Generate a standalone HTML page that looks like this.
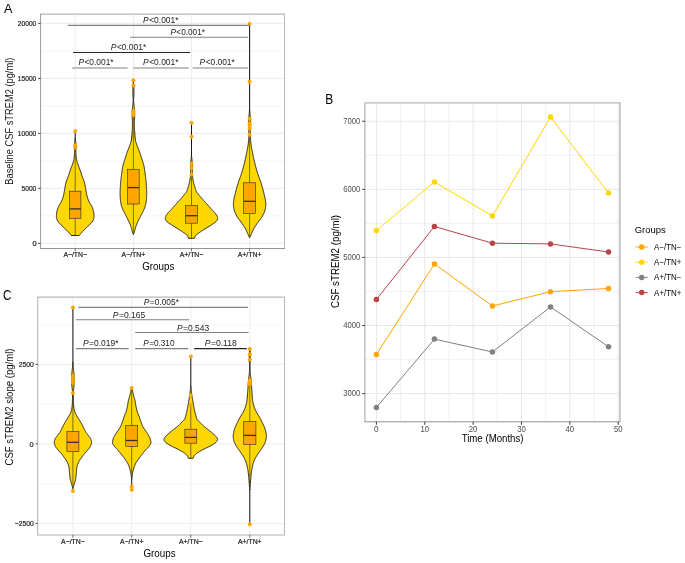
<!DOCTYPE html>
<html lang="en"><head><meta charset="utf-8"><title>CSF sTREM2 by group</title>
<style>html,body{margin:0;padding:0;background:#fff}svg{display:block}text{font-family:"Liberation Sans", sans-serif}</style>
</head><body>
<svg width="685" height="563" viewBox="0 0 685 563">
<rect width="685" height="563" fill="#fff"/>
<g id="panelA">
<rect x="40.60" y="14.00" width="243.90" height="234.50" fill="#fff"/>
<line x1="40.60" y1="215.90" x2="284.50" y2="215.90" stroke="#f6f6f6" stroke-width="0.95"/>
<line x1="40.60" y1="160.90" x2="284.50" y2="160.90" stroke="#f6f6f6" stroke-width="0.95"/>
<line x1="40.60" y1="105.90" x2="284.50" y2="105.90" stroke="#f6f6f6" stroke-width="0.95"/>
<line x1="40.60" y1="50.90" x2="284.50" y2="50.90" stroke="#f6f6f6" stroke-width="0.95"/>
<line x1="40.60" y1="243.40" x2="284.50" y2="243.40" stroke="#eeeeee" stroke-width="1.15"/>
<line x1="40.60" y1="188.40" x2="284.50" y2="188.40" stroke="#eeeeee" stroke-width="1.15"/>
<line x1="40.60" y1="133.40" x2="284.50" y2="133.40" stroke="#eeeeee" stroke-width="1.15"/>
<line x1="40.60" y1="78.40" x2="284.50" y2="78.40" stroke="#eeeeee" stroke-width="1.15"/>
<line x1="40.60" y1="23.40" x2="284.50" y2="23.40" stroke="#eeeeee" stroke-width="1.15"/>
<line x1="75.20" y1="14.00" x2="75.20" y2="248.50" stroke="#eeeeee" stroke-width="1.15"/>
<line x1="133.40" y1="14.00" x2="133.40" y2="248.50" stroke="#eeeeee" stroke-width="1.15"/>
<line x1="191.50" y1="14.00" x2="191.50" y2="248.50" stroke="#eeeeee" stroke-width="1.15"/>
<line x1="249.60" y1="14.00" x2="249.60" y2="248.50" stroke="#eeeeee" stroke-width="1.15"/>
<line x1="75.20" y1="131.00" x2="75.20" y2="138.50" stroke="#1a1a1a" stroke-width="1.05"/>
<path d="M75.10 138.00 L75.04 138.62 L74.97 139.25 L74.90 139.88 L74.83 140.50 L74.76 141.12 L74.70 141.75 L74.65 142.38 L74.60 143.00 L74.57 143.50 L74.53 144.00 L74.50 144.50 L74.47 145.00 L74.44 145.50 L74.42 146.00 L74.40 146.50 L74.40 147.00 L74.40 147.50 L74.42 148.00 L74.43 148.50 L74.45 149.00 L74.47 149.50 L74.48 150.00 L74.50 150.50 L74.50 151.00 L74.50 151.38 L74.49 151.75 L74.48 152.12 L74.47 152.50 L74.45 152.88 L74.43 153.25 L74.42 153.62 L74.40 154.00 L74.38 154.50 L74.35 155.00 L74.32 155.50 L74.28 156.00 L74.24 156.50 L74.20 157.00 L74.15 157.50 L74.10 158.00 L74.02 158.60 L73.92 159.20 L73.79 159.80 L73.65 160.40 L73.50 161.00 L73.34 161.60 L73.17 162.20 L73.00 162.80 L72.76 163.60 L72.48 164.40 L72.17 165.20 L71.86 166.00 L71.53 166.80 L71.21 167.60 L70.89 168.40 L70.60 169.20 L70.33 170.00 L70.06 170.80 L69.80 171.60 L69.55 172.40 L69.30 173.20 L69.04 174.00 L68.77 174.80 L68.50 175.60 L68.21 176.40 L67.89 177.20 L67.56 178.00 L67.23 178.80 L66.91 179.60 L66.61 180.40 L66.34 181.20 L66.10 182.00 L65.90 182.79 L65.72 183.57 L65.55 184.36 L65.39 185.15 L65.24 185.94 L65.09 186.73 L64.95 187.51 L64.80 188.30 L64.66 189.10 L64.53 189.90 L64.40 190.70 L64.28 191.50 L64.15 192.30 L64.02 193.10 L63.87 193.90 L63.70 194.70 L63.51 195.50 L63.29 196.30 L63.05 197.10 L62.80 197.90 L62.52 198.70 L62.23 199.50 L61.92 200.30 L61.60 201.10 L61.23 201.90 L60.79 202.70 L60.30 203.50 L59.80 204.30 L59.30 205.10 L58.83 205.90 L58.42 206.70 L58.10 207.50 L57.83 208.30 L57.56 209.10 L57.30 209.90 L57.07 210.70 L56.86 211.50 L56.69 212.30 L56.57 213.10 L56.50 213.90 L56.48 214.30 L56.46 214.70 L56.44 215.10 L56.43 215.50 L56.42 215.90 L56.41 216.30 L56.40 216.70 L56.40 217.10 L56.42 217.50 L56.48 217.90 L56.57 218.30 L56.69 218.70 L56.83 219.10 L56.98 219.50 L57.14 219.90 L57.30 220.30 L57.71 221.10 L58.26 221.90 L58.92 222.70 L59.68 223.50 L60.48 224.30 L61.31 225.10 L62.12 225.90 L62.90 226.70 L63.67 227.50 L64.48 228.30 L65.31 229.10 L66.15 229.90 L66.99 230.70 L67.80 231.50 L68.57 232.30 L69.30 233.10 L69.56 233.40 L69.80 233.70 L70.04 234.00 L70.27 234.30 L70.50 234.60 L70.73 234.90 L70.97 235.20 L71.20 235.50 L79.20 235.50 L79.43 235.20 L79.67 234.90 L79.90 234.60 L80.13 234.30 L80.36 234.00 L80.60 233.70 L80.84 233.40 L81.10 233.10 L81.83 232.30 L82.60 231.50 L83.41 230.70 L84.25 229.90 L85.09 229.10 L85.92 228.30 L86.73 227.50 L87.50 226.70 L88.28 225.90 L89.09 225.10 L89.92 224.30 L90.72 223.50 L91.48 222.70 L92.14 221.90 L92.69 221.10 L93.10 220.30 L93.26 219.90 L93.42 219.50 L93.57 219.10 L93.71 218.70 L93.83 218.30 L93.92 217.90 L93.98 217.50 L94.00 217.10 L94.00 216.70 L93.99 216.30 L93.98 215.90 L93.97 215.50 L93.96 215.10 L93.94 214.70 L93.92 214.30 L93.90 213.90 L93.83 213.10 L93.71 212.30 L93.54 211.50 L93.33 210.70 L93.10 209.90 L92.84 209.10 L92.57 208.30 L92.30 207.50 L91.98 206.70 L91.57 205.90 L91.10 205.10 L90.60 204.30 L90.10 203.50 L89.61 202.70 L89.17 201.90 L88.80 201.10 L88.48 200.30 L88.17 199.50 L87.88 198.70 L87.60 197.90 L87.35 197.10 L87.11 196.30 L86.89 195.50 L86.70 194.70 L86.53 193.90 L86.38 193.10 L86.25 192.30 L86.12 191.50 L86.00 190.70 L85.87 189.90 L85.74 189.10 L85.60 188.30 L85.45 187.51 L85.31 186.73 L85.16 185.94 L85.01 185.15 L84.85 184.36 L84.68 183.57 L84.50 182.79 L84.30 182.00 L84.06 181.20 L83.79 180.40 L83.49 179.60 L83.17 178.80 L82.84 178.00 L82.51 177.20 L82.19 176.40 L81.90 175.60 L81.63 174.80 L81.36 174.00 L81.10 173.20 L80.85 172.40 L80.60 171.60 L80.34 170.80 L80.07 170.00 L79.80 169.20 L79.51 168.40 L79.19 167.60 L78.87 166.80 L78.55 166.00 L78.23 165.20 L77.92 164.40 L77.64 163.60 L77.40 162.80 L77.23 162.20 L77.06 161.60 L76.90 161.00 L76.75 160.40 L76.61 159.80 L76.48 159.20 L76.38 158.60 L76.30 158.00 L76.25 157.50 L76.20 157.00 L76.16 156.50 L76.12 156.00 L76.08 155.50 L76.05 155.00 L76.02 154.50 L76.00 154.00 L75.98 153.62 L75.97 153.25 L75.95 152.88 L75.93 152.50 L75.92 152.12 L75.91 151.75 L75.90 151.38 L75.90 151.00 L75.90 150.50 L75.92 150.00 L75.93 149.50 L75.95 149.00 L75.97 148.50 L75.98 148.00 L76.00 147.50 L76.00 147.00 L76.00 146.50 L75.98 146.00 L75.96 145.50 L75.93 145.00 L75.90 144.50 L75.87 144.00 L75.83 143.50 L75.80 143.00 L75.75 142.38 L75.70 141.75 L75.64 141.12 L75.57 140.50 L75.50 139.88 L75.43 139.25 L75.36 138.62 L75.30 138.00 Z" fill="#FFD700" stroke="#1c1c1c" stroke-width="0.95" stroke-linejoin="round"/>
<line x1="75.20" y1="147.00" x2="75.20" y2="191.20" stroke="#333333" stroke-width="0.65"/>
<line x1="75.20" y1="218.30" x2="75.20" y2="235.40" stroke="#333333" stroke-width="0.65"/>
<rect x="69.50" y="191.20" width="11.40" height="27.10" fill="#FFA500" stroke="#333333" stroke-width="0.65"/>
<line x1="69.50" y1="208.90" x2="80.90" y2="208.90" stroke="#333333" stroke-width="1.3"/>
<circle cx="75.20" cy="131.00" r="2.00" fill="#FFA500"/>
<circle cx="75.20" cy="145.20" r="2.00" fill="#FFA500"/>
<circle cx="75.20" cy="147.40" r="2.00" fill="#FFA500"/>
<line x1="133.40" y1="80.00" x2="133.40" y2="83.50" stroke="#1a1a1a" stroke-width="1.05"/>
<path d="M133.30 83.00 L133.24 83.62 L133.17 84.25 L133.09 84.88 L133.02 85.50 L132.95 86.12 L132.90 86.75 L132.86 87.38 L132.85 88.00 L132.85 88.75 L132.85 89.50 L132.85 90.25 L132.85 91.00 L132.85 91.75 L132.85 92.50 L132.85 93.25 L132.85 94.00 L132.87 94.75 L132.90 95.50 L132.96 96.25 L133.03 97.00 L133.09 97.75 L133.15 98.50 L133.18 99.25 L133.20 100.00 L133.19 100.62 L133.16 101.25 L133.11 101.88 L133.06 102.50 L132.99 103.12 L132.93 103.75 L132.86 104.38 L132.80 105.00 L132.74 105.62 L132.67 106.25 L132.59 106.88 L132.52 107.50 L132.45 108.12 L132.39 108.75 L132.33 109.38 L132.30 110.00 L132.27 110.75 L132.24 111.50 L132.22 112.25 L132.19 113.00 L132.18 113.75 L132.16 114.50 L132.15 115.25 L132.15 116.00 L132.16 116.75 L132.19 117.50 L132.23 118.25 L132.28 119.00 L132.32 119.75 L132.36 120.50 L132.39 121.25 L132.40 122.00 L132.40 122.62 L132.40 123.25 L132.40 123.88 L132.40 124.50 L132.40 125.12 L132.40 125.75 L132.40 126.38 L132.40 127.00 L132.39 127.62 L132.37 128.25 L132.34 128.88 L132.29 129.50 L132.25 130.12 L132.20 130.75 L132.15 131.38 L132.10 132.00 L132.03 133.00 L131.96 134.00 L131.90 135.00 L131.82 136.00 L131.74 137.00 L131.64 138.00 L131.53 139.00 L131.40 140.00 L131.28 140.66 L131.13 141.32 L130.94 141.99 L130.73 142.65 L130.50 143.31 L130.27 143.98 L130.03 144.64 L129.80 145.30 L129.56 145.98 L129.31 146.65 L129.04 147.32 L128.77 148.00 L128.49 148.68 L128.22 149.35 L127.95 150.02 L127.70 150.70 L127.46 151.36 L127.23 152.02 L127.00 152.69 L126.78 153.35 L126.56 154.01 L126.34 154.68 L126.12 155.34 L125.90 156.00 L125.68 156.66 L125.46 157.32 L125.25 157.99 L125.03 158.65 L124.82 159.31 L124.61 159.98 L124.40 160.64 L124.20 161.30 L124.00 161.96 L123.79 162.62 L123.58 163.29 L123.38 163.95 L123.19 164.61 L123.00 165.28 L122.84 165.94 L122.70 166.60 L122.58 167.28 L122.46 167.95 L122.36 168.62 L122.26 169.30 L122.17 169.97 L122.08 170.65 L121.99 171.32 L121.90 172.00 L121.81 172.66 L121.72 173.32 L121.63 173.99 L121.54 174.65 L121.45 175.31 L121.37 175.98 L121.28 176.64 L121.20 177.30 L121.12 177.96 L121.03 178.62 L120.95 179.29 L120.87 179.95 L120.79 180.61 L120.72 181.28 L120.66 181.94 L120.60 182.60 L120.55 183.26 L120.51 183.93 L120.47 184.59 L120.43 185.25 L120.39 185.91 L120.36 186.57 L120.33 187.24 L120.30 187.90 L120.27 188.58 L120.23 189.25 L120.20 189.93 L120.17 190.60 L120.14 191.28 L120.12 191.95 L120.11 192.62 L120.10 193.30 L120.10 193.96 L120.12 194.62 L120.14 195.29 L120.16 195.95 L120.19 196.61 L120.23 197.28 L120.26 197.94 L120.30 198.60 L120.35 199.26 L120.41 199.93 L120.48 200.59 L120.56 201.25 L120.66 201.91 L120.77 202.57 L120.88 203.24 L121.00 203.90 L121.14 204.56 L121.31 205.22 L121.50 205.89 L121.72 206.55 L121.95 207.21 L122.19 207.88 L122.44 208.54 L122.70 209.20 L122.98 209.88 L123.29 210.55 L123.62 211.22 L123.97 211.90 L124.33 212.57 L124.69 213.25 L125.05 213.92 L125.40 214.60 L125.74 215.26 L126.08 215.93 L126.43 216.59 L126.77 217.25 L127.12 217.91 L127.45 218.57 L127.78 219.24 L128.10 219.90 L128.41 220.56 L128.72 221.22 L129.02 221.89 L129.31 222.55 L129.60 223.21 L129.88 223.88 L130.15 224.54 L130.40 225.20 L130.57 225.65 L130.73 226.10 L130.89 226.55 L131.04 227.00 L131.19 227.45 L131.33 227.90 L131.47 228.35 L131.60 228.80 L131.72 229.24 L131.83 229.68 L131.94 230.11 L132.04 230.55 L132.15 230.99 L132.26 231.43 L132.37 231.86 L132.50 232.30 L132.58 232.56 L132.67 232.83 L132.76 233.09 L132.86 233.35 L132.96 233.61 L133.06 233.88 L133.15 234.14 L133.25 234.40 L133.55 234.40 L133.65 234.14 L133.74 233.88 L133.84 233.61 L133.94 233.35 L134.04 233.09 L134.13 232.83 L134.22 232.56 L134.30 232.30 L134.43 231.86 L134.54 231.43 L134.65 230.99 L134.76 230.55 L134.86 230.11 L134.97 229.68 L135.08 229.24 L135.20 228.80 L135.33 228.35 L135.47 227.90 L135.61 227.45 L135.76 227.00 L135.91 226.55 L136.07 226.10 L136.23 225.65 L136.40 225.20 L136.65 224.54 L136.92 223.88 L137.20 223.21 L137.49 222.55 L137.78 221.89 L138.08 221.22 L138.39 220.56 L138.70 219.90 L139.02 219.24 L139.35 218.57 L139.68 217.91 L140.03 217.25 L140.37 216.59 L140.72 215.93 L141.06 215.26 L141.40 214.60 L141.75 213.92 L142.11 213.25 L142.47 212.57 L142.83 211.90 L143.18 211.22 L143.51 210.55 L143.82 209.88 L144.10 209.20 L144.36 208.54 L144.61 207.88 L144.85 207.21 L145.08 206.55 L145.30 205.89 L145.49 205.22 L145.66 204.56 L145.80 203.90 L145.92 203.24 L146.03 202.57 L146.14 201.91 L146.24 201.25 L146.32 200.59 L146.39 199.93 L146.45 199.26 L146.50 198.60 L146.54 197.94 L146.58 197.28 L146.61 196.61 L146.64 195.95 L146.66 195.29 L146.68 194.62 L146.70 193.96 L146.70 193.30 L146.69 192.62 L146.68 191.95 L146.66 191.28 L146.63 190.60 L146.60 189.93 L146.57 189.25 L146.53 188.58 L146.50 187.90 L146.47 187.24 L146.44 186.57 L146.41 185.91 L146.37 185.25 L146.33 184.59 L146.29 183.93 L146.25 183.26 L146.20 182.60 L146.14 181.94 L146.08 181.28 L146.01 180.61 L145.93 179.95 L145.85 179.29 L145.77 178.62 L145.68 177.96 L145.60 177.30 L145.52 176.64 L145.43 175.98 L145.35 175.31 L145.26 174.65 L145.17 173.99 L145.08 173.32 L144.99 172.66 L144.90 172.00 L144.81 171.32 L144.72 170.65 L144.63 169.97 L144.54 169.30 L144.44 168.62 L144.34 167.95 L144.22 167.28 L144.10 166.60 L143.96 165.94 L143.80 165.28 L143.61 164.61 L143.42 163.95 L143.22 163.29 L143.01 162.62 L142.80 161.96 L142.60 161.30 L142.40 160.64 L142.19 159.98 L141.98 159.31 L141.77 158.65 L141.55 157.99 L141.34 157.32 L141.12 156.66 L140.90 156.00 L140.68 155.34 L140.46 154.68 L140.24 154.01 L140.02 153.35 L139.80 152.69 L139.57 152.02 L139.34 151.36 L139.10 150.70 L138.85 150.02 L138.58 149.35 L138.31 148.68 L138.03 148.00 L137.76 147.32 L137.49 146.65 L137.24 145.98 L137.00 145.30 L136.77 144.64 L136.53 143.98 L136.30 143.31 L136.07 142.65 L135.86 141.99 L135.67 141.32 L135.52 140.66 L135.40 140.00 L135.27 139.00 L135.16 138.00 L135.06 137.00 L134.98 136.00 L134.90 135.00 L134.84 134.00 L134.77 133.00 L134.70 132.00 L134.65 131.38 L134.60 130.75 L134.55 130.12 L134.51 129.50 L134.46 128.88 L134.43 128.25 L134.41 127.62 L134.40 127.00 L134.40 126.38 L134.40 125.75 L134.40 125.12 L134.40 124.50 L134.40 123.88 L134.40 123.25 L134.40 122.62 L134.40 122.00 L134.41 121.25 L134.44 120.50 L134.48 119.75 L134.53 119.00 L134.57 118.25 L134.61 117.50 L134.64 116.75 L134.65 116.00 L134.65 115.25 L134.64 114.50 L134.62 113.75 L134.61 113.00 L134.58 112.25 L134.56 111.50 L134.53 110.75 L134.50 110.00 L134.47 109.38 L134.41 108.75 L134.35 108.12 L134.28 107.50 L134.21 106.88 L134.13 106.25 L134.06 105.62 L134.00 105.00 L133.94 104.38 L133.88 103.75 L133.81 103.12 L133.74 102.50 L133.69 101.88 L133.64 101.25 L133.61 100.62 L133.60 100.00 L133.62 99.25 L133.65 98.50 L133.71 97.75 L133.78 97.00 L133.84 96.25 L133.90 95.50 L133.93 94.75 L133.95 94.00 L133.95 93.25 L133.95 92.50 L133.95 91.75 L133.95 91.00 L133.95 90.25 L133.95 89.50 L133.95 88.75 L133.95 88.00 L133.94 87.38 L133.90 86.75 L133.85 86.12 L133.78 85.50 L133.71 84.88 L133.63 84.25 L133.56 83.62 L133.50 83.00 Z" fill="#FFD700" stroke="#1c1c1c" stroke-width="0.95" stroke-linejoin="round"/>
<line x1="133.40" y1="117.00" x2="133.40" y2="169.30" stroke="#333333" stroke-width="0.65"/>
<line x1="133.40" y1="204.00" x2="133.40" y2="234.40" stroke="#333333" stroke-width="0.65"/>
<rect x="127.60" y="169.30" width="11.60" height="34.70" fill="#FFA500" stroke="#333333" stroke-width="0.65"/>
<line x1="127.60" y1="187.60" x2="139.20" y2="187.60" stroke="#333333" stroke-width="1.3"/>
<circle cx="133.40" cy="80.20" r="2.00" fill="#FFA500"/>
<circle cx="133.40" cy="85.50" r="2.00" fill="#FFA500"/>
<circle cx="133.40" cy="111.20" r="2.00" fill="#FFA500"/>
<circle cx="133.40" cy="113.00" r="2.00" fill="#FFA500"/>
<circle cx="133.40" cy="114.80" r="2.00" fill="#FFA500"/>
<line x1="191.50" y1="122.70" x2="191.50" y2="156.50" stroke="#1a1a1a" stroke-width="1.05"/>
<path d="M191.40 156.00 L191.34 156.62 L191.27 157.25 L191.21 157.88 L191.14 158.50 L191.08 159.12 L191.02 159.75 L190.96 160.38 L190.90 161.00 L190.84 161.62 L190.78 162.25 L190.71 162.88 L190.64 163.50 L190.59 164.12 L190.54 164.75 L190.51 165.38 L190.50 166.00 L190.50 166.62 L190.52 167.25 L190.53 167.88 L190.55 168.50 L190.57 169.12 L190.58 169.75 L190.60 170.38 L190.60 171.00 L190.60 171.38 L190.60 171.75 L190.60 172.12 L190.60 172.50 L190.60 172.88 L190.60 173.25 L190.60 173.62 L190.60 174.00 L190.59 174.41 L190.57 174.82 L190.54 175.24 L190.50 175.65 L190.45 176.06 L190.40 176.48 L190.35 176.89 L190.30 177.30 L190.22 177.96 L190.13 178.62 L190.02 179.29 L189.91 179.95 L189.80 180.61 L189.67 181.28 L189.54 181.94 L189.40 182.60 L189.25 183.26 L189.08 183.93 L188.90 184.59 L188.71 185.25 L188.51 185.91 L188.31 186.57 L188.11 187.24 L187.90 187.90 L187.77 188.35 L187.64 188.80 L187.51 189.25 L187.37 189.70 L187.23 190.15 L187.07 190.60 L186.90 191.05 L186.70 191.50 L186.47 191.94 L186.18 192.38 L185.85 192.81 L185.50 193.25 L185.12 193.69 L184.74 194.12 L184.36 194.56 L184.00 195.00 L183.64 195.45 L183.27 195.90 L182.90 196.35 L182.53 196.80 L182.16 197.25 L181.78 197.70 L181.39 198.15 L181.00 198.60 L180.61 199.04 L180.22 199.47 L179.82 199.91 L179.41 200.35 L179.01 200.79 L178.60 201.22 L178.20 201.66 L177.80 202.10 L177.39 202.55 L176.99 203.00 L176.59 203.45 L176.19 203.90 L175.79 204.35 L175.39 204.80 L174.99 205.25 L174.60 205.70 L174.22 206.14 L173.85 206.57 L173.48 207.01 L173.12 207.45 L172.75 207.89 L172.37 208.32 L171.99 208.76 L171.60 209.20 L171.17 209.65 L170.72 210.10 L170.26 210.55 L169.79 211.00 L169.33 211.45 L168.89 211.90 L168.48 212.35 L168.10 212.80 L167.76 213.24 L167.42 213.68 L167.09 214.11 L166.77 214.55 L166.48 214.99 L166.22 215.43 L165.99 215.86 L165.80 216.30 L165.71 216.53 L165.63 216.75 L165.54 216.97 L165.47 217.20 L165.40 217.43 L165.35 217.65 L165.31 217.88 L165.30 218.10 L165.32 218.44 L165.39 218.78 L165.48 219.11 L165.61 219.45 L165.76 219.79 L165.93 220.12 L166.11 220.46 L166.30 220.80 L166.61 221.24 L167.03 221.68 L167.55 222.11 L168.14 222.55 L168.77 222.99 L169.42 223.43 L170.07 223.86 L170.70 224.30 L171.51 224.86 L172.36 225.43 L173.25 225.99 L174.16 226.55 L175.08 227.11 L176.00 227.68 L176.91 228.24 L177.80 228.80 L178.49 229.24 L179.19 229.68 L179.89 230.11 L180.59 230.55 L181.27 230.99 L181.94 231.43 L182.59 231.86 L183.20 232.30 L183.83 232.75 L184.48 233.20 L185.14 233.65 L185.76 234.10 L186.35 234.55 L186.86 235.00 L187.29 235.45 L187.60 235.90 L187.75 236.20 L187.89 236.50 L188.00 236.80 L188.10 237.10 L188.20 237.40 L188.30 237.70 L188.39 238.00 L188.50 238.30 L194.50 238.30 L194.61 238.00 L194.70 237.70 L194.80 237.40 L194.90 237.10 L195.00 236.80 L195.11 236.50 L195.25 236.20 L195.40 235.90 L195.71 235.45 L196.14 235.00 L196.65 234.55 L197.24 234.10 L197.86 233.65 L198.52 233.20 L199.17 232.75 L199.80 232.30 L200.41 231.86 L201.06 231.43 L201.73 230.99 L202.41 230.55 L203.11 230.11 L203.81 229.68 L204.51 229.24 L205.20 228.80 L206.09 228.24 L207.00 227.68 L207.92 227.11 L208.84 226.55 L209.75 225.99 L210.64 225.43 L211.49 224.86 L212.30 224.30 L212.93 223.86 L213.58 223.43 L214.23 222.99 L214.86 222.55 L215.45 222.11 L215.97 221.68 L216.39 221.24 L216.70 220.80 L216.89 220.46 L217.07 220.12 L217.24 219.79 L217.39 219.45 L217.52 219.11 L217.61 218.78 L217.68 218.44 L217.70 218.10 L217.69 217.88 L217.65 217.65 L217.60 217.43 L217.53 217.20 L217.46 216.97 L217.37 216.75 L217.29 216.53 L217.20 216.30 L217.01 215.86 L216.78 215.43 L216.52 214.99 L216.23 214.55 L215.91 214.11 L215.58 213.68 L215.24 213.24 L214.90 212.80 L214.52 212.35 L214.11 211.90 L213.67 211.45 L213.21 211.00 L212.74 210.55 L212.28 210.10 L211.83 209.65 L211.40 209.20 L211.01 208.76 L210.63 208.32 L210.25 207.89 L209.88 207.45 L209.52 207.01 L209.15 206.57 L208.78 206.14 L208.40 205.70 L208.01 205.25 L207.61 204.80 L207.21 204.35 L206.81 203.90 L206.41 203.45 L206.01 203.00 L205.61 202.55 L205.20 202.10 L204.80 201.66 L204.40 201.22 L203.99 200.79 L203.59 200.35 L203.18 199.91 L202.78 199.47 L202.39 199.04 L202.00 198.60 L201.61 198.15 L201.22 197.70 L200.84 197.25 L200.47 196.80 L200.10 196.35 L199.73 195.90 L199.36 195.45 L199.00 195.00 L198.64 194.56 L198.26 194.12 L197.88 193.69 L197.50 193.25 L197.15 192.81 L196.82 192.38 L196.53 191.94 L196.30 191.50 L196.10 191.05 L195.93 190.60 L195.77 190.15 L195.63 189.70 L195.49 189.25 L195.36 188.80 L195.23 188.35 L195.10 187.90 L194.89 187.24 L194.69 186.57 L194.49 185.91 L194.29 185.25 L194.10 184.59 L193.92 183.93 L193.75 183.26 L193.60 182.60 L193.46 181.94 L193.33 181.28 L193.20 180.61 L193.09 179.95 L192.98 179.29 L192.87 178.62 L192.78 177.96 L192.70 177.30 L192.65 176.89 L192.60 176.48 L192.55 176.06 L192.50 175.65 L192.46 175.24 L192.43 174.82 L192.41 174.41 L192.40 174.00 L192.40 173.62 L192.40 173.25 L192.40 172.88 L192.40 172.50 L192.40 172.12 L192.40 171.75 L192.40 171.38 L192.40 171.00 L192.40 170.38 L192.42 169.75 L192.43 169.12 L192.45 168.50 L192.47 167.88 L192.48 167.25 L192.50 166.62 L192.50 166.00 L192.49 165.38 L192.46 164.75 L192.41 164.12 L192.36 163.50 L192.29 162.88 L192.22 162.25 L192.16 161.62 L192.10 161.00 L192.04 160.38 L191.98 159.75 L191.92 159.12 L191.86 158.50 L191.79 157.88 L191.73 157.25 L191.66 156.62 L191.60 156.00 Z" fill="#FFD700" stroke="#1c1c1c" stroke-width="0.95" stroke-linejoin="round"/>
<line x1="191.50" y1="176.00" x2="191.50" y2="205.40" stroke="#333333" stroke-width="0.65"/>
<line x1="191.50" y1="223.20" x2="191.50" y2="238.30" stroke="#333333" stroke-width="0.65"/>
<rect x="185.55" y="205.40" width="11.90" height="17.80" fill="#FFA500" stroke="#333333" stroke-width="0.65"/>
<line x1="185.55" y1="215.70" x2="197.45" y2="215.70" stroke="#333333" stroke-width="1.3"/>
<circle cx="191.50" cy="122.70" r="2.00" fill="#FFA500"/>
<circle cx="191.50" cy="136.80" r="2.00" fill="#FFA500"/>
<circle cx="191.50" cy="163.80" r="2.00" fill="#FFA500"/>
<circle cx="191.50" cy="167.80" r="2.00" fill="#FFA500"/>
<circle cx="191.50" cy="174.60" r="2.00" fill="#FFA500"/>
<line x1="249.60" y1="24.00" x2="249.60" y2="110.50" stroke="#1a1a1a" stroke-width="1.05"/>
<path d="M249.50 110.00 L249.44 110.75 L249.37 111.50 L249.31 112.25 L249.24 113.00 L249.18 113.75 L249.12 114.50 L249.06 115.25 L249.00 116.00 L248.94 116.75 L248.88 117.50 L248.81 118.25 L248.74 119.00 L248.69 119.75 L248.64 120.50 L248.61 121.25 L248.60 122.00 L248.60 122.75 L248.60 123.50 L248.60 124.25 L248.60 125.00 L248.60 125.75 L248.60 126.50 L248.60 127.25 L248.60 128.00 L248.61 128.62 L248.65 129.25 L248.69 129.88 L248.75 130.50 L248.81 131.12 L248.85 131.75 L248.89 132.38 L248.90 133.00 L248.90 133.65 L248.88 134.30 L248.86 134.95 L248.83 135.60 L248.80 136.25 L248.77 136.90 L248.73 137.55 L248.70 138.20 L248.66 138.96 L248.61 139.72 L248.56 140.49 L248.50 141.25 L248.43 142.01 L248.36 142.78 L248.28 143.54 L248.20 144.30 L248.10 145.06 L247.98 145.83 L247.85 146.59 L247.71 147.35 L247.55 148.11 L247.40 148.88 L247.25 149.64 L247.10 150.40 L246.96 151.18 L246.81 151.95 L246.67 152.72 L246.52 153.50 L246.37 154.28 L246.22 155.05 L246.06 155.82 L245.90 156.60 L245.74 157.36 L245.57 158.12 L245.40 158.89 L245.23 159.65 L245.05 160.41 L244.87 161.17 L244.69 161.94 L244.50 162.70 L244.31 163.46 L244.12 164.22 L243.93 164.99 L243.73 165.75 L243.53 166.51 L243.32 167.28 L243.11 168.04 L242.90 168.80 L242.68 169.58 L242.45 170.35 L242.22 171.12 L241.99 171.90 L241.75 172.68 L241.50 173.45 L241.25 174.22 L241.00 175.00 L240.74 175.76 L240.47 176.53 L240.19 177.29 L239.90 178.05 L239.62 178.81 L239.34 179.57 L239.06 180.34 L238.80 181.10 L238.55 181.86 L238.30 182.62 L238.05 183.39 L237.81 184.15 L237.57 184.91 L237.34 185.67 L237.12 186.44 L236.90 187.20 L236.68 187.97 L236.47 188.75 L236.27 189.53 L236.07 190.30 L235.87 191.07 L235.68 191.85 L235.49 192.62 L235.30 193.40 L235.11 194.16 L234.91 194.93 L234.71 195.69 L234.52 196.45 L234.33 197.21 L234.17 197.97 L234.02 198.74 L233.90 199.50 L233.81 200.14 L233.72 200.78 L233.64 201.41 L233.56 202.05 L233.50 202.69 L233.45 203.32 L233.41 203.96 L233.40 204.60 L233.42 205.24 L233.46 205.88 L233.53 206.51 L233.62 207.15 L233.73 207.79 L233.84 208.42 L233.97 209.06 L234.10 209.70 L234.29 210.47 L234.53 211.25 L234.82 212.03 L235.15 212.80 L235.51 213.57 L235.89 214.35 L236.29 215.12 L236.70 215.90 L237.13 216.66 L237.63 217.43 L238.16 218.19 L238.73 218.95 L239.31 219.71 L239.89 220.47 L240.46 221.24 L241.00 222.00 L241.53 222.76 L242.07 223.53 L242.61 224.29 L243.15 225.05 L243.67 225.81 L244.18 226.57 L244.65 227.34 L245.10 228.10 L245.38 228.61 L245.65 229.12 L245.91 229.64 L246.16 230.15 L246.40 230.66 L246.64 231.17 L246.87 231.69 L247.10 232.20 L247.27 232.59 L247.43 232.97 L247.59 233.36 L247.75 233.75 L247.91 234.14 L248.07 234.53 L248.23 234.91 L248.40 235.30 L248.53 235.58 L248.65 235.85 L248.78 236.12 L248.92 236.40 L249.05 236.68 L249.18 236.95 L249.32 237.22 L249.45 237.50 L249.75 237.50 L249.88 237.22 L250.02 236.95 L250.15 236.68 L250.28 236.40 L250.42 236.12 L250.55 235.85 L250.67 235.58 L250.80 235.30 L250.97 234.91 L251.13 234.53 L251.29 234.14 L251.45 233.75 L251.61 233.36 L251.77 232.97 L251.93 232.59 L252.10 232.20 L252.33 231.69 L252.56 231.17 L252.80 230.66 L253.04 230.15 L253.29 229.64 L253.55 229.12 L253.82 228.61 L254.10 228.10 L254.55 227.34 L255.02 226.57 L255.53 225.81 L256.05 225.05 L256.59 224.29 L257.13 223.53 L257.67 222.76 L258.20 222.00 L258.74 221.24 L259.31 220.47 L259.89 219.71 L260.47 218.95 L261.04 218.19 L261.57 217.43 L262.07 216.66 L262.50 215.90 L262.91 215.12 L263.31 214.35 L263.69 213.57 L264.05 212.80 L264.38 212.03 L264.67 211.25 L264.91 210.47 L265.10 209.70 L265.23 209.06 L265.36 208.42 L265.47 207.79 L265.58 207.15 L265.67 206.51 L265.74 205.88 L265.78 205.24 L265.80 204.60 L265.79 203.96 L265.75 203.32 L265.70 202.69 L265.64 202.05 L265.56 201.41 L265.48 200.78 L265.39 200.14 L265.30 199.50 L265.18 198.74 L265.03 197.97 L264.87 197.21 L264.68 196.45 L264.49 195.69 L264.29 194.93 L264.09 194.16 L263.90 193.40 L263.71 192.62 L263.52 191.85 L263.33 191.07 L263.13 190.30 L262.93 189.53 L262.73 188.75 L262.52 187.97 L262.30 187.20 L262.08 186.44 L261.86 185.67 L261.63 184.91 L261.39 184.15 L261.15 183.39 L260.90 182.62 L260.65 181.86 L260.40 181.10 L260.14 180.34 L259.86 179.57 L259.58 178.81 L259.30 178.05 L259.01 177.29 L258.73 176.53 L258.46 175.76 L258.20 175.00 L257.95 174.22 L257.70 173.45 L257.45 172.68 L257.21 171.90 L256.98 171.12 L256.75 170.35 L256.52 169.58 L256.30 168.80 L256.09 168.04 L255.88 167.28 L255.67 166.51 L255.47 165.75 L255.27 164.99 L255.08 164.22 L254.89 163.46 L254.70 162.70 L254.51 161.94 L254.33 161.17 L254.15 160.41 L253.97 159.65 L253.80 158.89 L253.63 158.12 L253.46 157.36 L253.30 156.60 L253.14 155.82 L252.98 155.05 L252.83 154.28 L252.68 153.50 L252.53 152.72 L252.39 151.95 L252.24 151.18 L252.10 150.40 L251.95 149.64 L251.80 148.88 L251.65 148.11 L251.49 147.35 L251.35 146.59 L251.22 145.83 L251.10 145.06 L251.00 144.30 L250.92 143.54 L250.84 142.78 L250.77 142.01 L250.70 141.25 L250.64 140.49 L250.59 139.72 L250.54 138.96 L250.50 138.20 L250.47 137.55 L250.43 136.90 L250.40 136.25 L250.37 135.60 L250.34 134.95 L250.32 134.30 L250.30 133.65 L250.30 133.00 L250.31 132.38 L250.35 131.75 L250.39 131.12 L250.45 130.50 L250.51 129.88 L250.55 129.25 L250.59 128.62 L250.60 128.00 L250.60 127.25 L250.60 126.50 L250.60 125.75 L250.60 125.00 L250.60 124.25 L250.60 123.50 L250.60 122.75 L250.60 122.00 L250.59 121.25 L250.56 120.50 L250.51 119.75 L250.46 119.00 L250.39 118.25 L250.32 117.50 L250.26 116.75 L250.20 116.00 L250.14 115.25 L250.08 114.50 L250.02 113.75 L249.96 113.00 L249.89 112.25 L249.83 111.50 L249.76 110.75 L249.70 110.00 Z" fill="#FFD700" stroke="#1c1c1c" stroke-width="0.95" stroke-linejoin="round"/>
<line x1="249.60" y1="137.00" x2="249.60" y2="182.80" stroke="#333333" stroke-width="0.65"/>
<line x1="249.60" y1="213.50" x2="249.60" y2="237.50" stroke="#333333" stroke-width="0.65"/>
<rect x="243.65" y="182.80" width="11.90" height="30.70" fill="#FFA500" stroke="#333333" stroke-width="0.65"/>
<line x1="243.65" y1="201.30" x2="255.55" y2="201.30" stroke="#333333" stroke-width="1.3"/>
<circle cx="249.60" cy="24.00" r="2.00" fill="#FFA500"/>
<circle cx="249.60" cy="81.70" r="2.00" fill="#FFA500"/>
<circle cx="249.60" cy="118.70" r="2.00" fill="#FFA500"/>
<circle cx="249.60" cy="123.50" r="2.00" fill="#FFA500"/>
<circle cx="249.60" cy="126.00" r="2.00" fill="#FFA500"/>
<circle cx="249.60" cy="128.50" r="2.00" fill="#FFA500"/>
<circle cx="249.60" cy="134.70" r="2.00" fill="#FFA500"/>
<line x1="40.20" y1="14.00" x2="284.90" y2="14.00" stroke="#b8b8b8" stroke-width="1.25"/>
<line x1="284.50" y1="14.00" x2="284.50" y2="248.50" stroke="#bcbcbc" stroke-width="1.10"/>
<line x1="40.60" y1="14.00" x2="40.60" y2="248.50" stroke="#808080" stroke-width="0.80"/>
<line x1="40.20" y1="248.50" x2="284.90" y2="248.50" stroke="#8c8c8c" stroke-width="0.95"/>
<line x1="67.80" y1="25.40" x2="249.60" y2="25.40" stroke="#808080" stroke-width="1.10"/>
<line x1="130.20" y1="37.20" x2="247.90" y2="37.20" stroke="#808080" stroke-width="1.10"/>
<line x1="73.10" y1="52.50" x2="190.10" y2="52.50" stroke="#262626" stroke-width="1.15"/>
<line x1="72.10" y1="68.00" x2="127.60" y2="68.00" stroke="#808080" stroke-width="1.15"/>
<line x1="133.40" y1="68.00" x2="188.80" y2="68.00" stroke="#808080" stroke-width="1.15"/>
<line x1="192.60" y1="68.00" x2="247.90" y2="68.00" stroke="#808080" stroke-width="1.15"/>
<text x="143.00" y="22.60" font-size="8.80" fill="#222" textLength="35.60" lengthAdjust="spacingAndGlyphs"><tspan font-style="italic">P</tspan><tspan dx="0.5">&lt;0.001*</tspan></text>
<text x="170.40" y="34.90" font-size="8.80" fill="#222" textLength="34.60" lengthAdjust="spacingAndGlyphs"><tspan font-style="italic">P</tspan><tspan dx="0.5">&lt;0.001*</tspan></text>
<text x="110.80" y="49.70" font-size="8.80" fill="#222" textLength="35.40" lengthAdjust="spacingAndGlyphs"><tspan font-style="italic">P</tspan><tspan dx="0.5">&lt;0.001*</tspan></text>
<text x="78.40" y="65.30" font-size="8.80" fill="#222" textLength="35.20" lengthAdjust="spacingAndGlyphs"><tspan font-style="italic">P</tspan><tspan dx="0.5">&lt;0.001*</tspan></text>
<text x="143.00" y="65.30" font-size="8.80" fill="#222" textLength="35.60" lengthAdjust="spacingAndGlyphs"><tspan font-style="italic">P</tspan><tspan dx="0.5">&lt;0.001*</tspan></text>
<text x="199.60" y="65.30" font-size="8.80" fill="#222" textLength="35.20" lengthAdjust="spacingAndGlyphs"><tspan font-style="italic">P</tspan><tspan dx="0.5">&lt;0.001*</tspan></text>
<line x1="38.00" y1="243.40" x2="40.60" y2="243.40" stroke="#333" stroke-width="0.85"/>
<text x="36.60" y="246.00" font-size="7.40" text-anchor="end" fill="#262626" stroke="#262626" stroke-width="0.22">0</text>
<line x1="38.00" y1="188.40" x2="40.60" y2="188.40" stroke="#333" stroke-width="0.85"/>
<text x="36.30" y="191.00" font-size="7.40" text-anchor="end" fill="#262626" textLength="14.80" lengthAdjust="spacingAndGlyphs" stroke="#262626" stroke-width="0.22">5000</text>
<line x1="38.00" y1="133.40" x2="40.60" y2="133.40" stroke="#333" stroke-width="0.85"/>
<text x="36.30" y="136.00" font-size="7.40" text-anchor="end" fill="#262626" textLength="18.50" lengthAdjust="spacingAndGlyphs" stroke="#262626" stroke-width="0.22">10000</text>
<line x1="38.00" y1="78.40" x2="40.60" y2="78.40" stroke="#333" stroke-width="0.85"/>
<text x="36.30" y="81.00" font-size="7.40" text-anchor="end" fill="#262626" textLength="18.50" lengthAdjust="spacingAndGlyphs" stroke="#262626" stroke-width="0.22">15000</text>
<line x1="38.00" y1="23.40" x2="40.60" y2="23.40" stroke="#333" stroke-width="0.85"/>
<text x="36.30" y="26.00" font-size="7.40" text-anchor="end" fill="#262626" textLength="18.50" lengthAdjust="spacingAndGlyphs" stroke="#262626" stroke-width="0.22">20000</text>
<line x1="75.20" y1="248.50" x2="75.20" y2="251.20" stroke="#444" stroke-width="0.80"/>
<text x="75.20" y="257.30" font-size="7.00" text-anchor="middle" fill="#222" textLength="23.60" lengthAdjust="spacingAndGlyphs" stroke="#262626" stroke-width="0.22">A−/TN−</text>
<line x1="133.40" y1="248.50" x2="133.40" y2="251.20" stroke="#444" stroke-width="0.80"/>
<text x="133.40" y="257.30" font-size="7.00" text-anchor="middle" fill="#222" textLength="23.60" lengthAdjust="spacingAndGlyphs" stroke="#262626" stroke-width="0.22">A−/TN+</text>
<line x1="191.50" y1="248.50" x2="191.50" y2="251.20" stroke="#444" stroke-width="0.80"/>
<text x="191.50" y="257.30" font-size="7.00" text-anchor="middle" fill="#222" textLength="23.60" lengthAdjust="spacingAndGlyphs" stroke="#262626" stroke-width="0.22">A+/TN−</text>
<line x1="249.60" y1="248.50" x2="249.60" y2="251.20" stroke="#444" stroke-width="0.80"/>
<text x="249.60" y="257.30" font-size="7.00" text-anchor="middle" fill="#222" textLength="23.60" lengthAdjust="spacingAndGlyphs" stroke="#262626" stroke-width="0.22">A+/TN+</text>
<text x="158.30" y="269.80" font-size="10.20" text-anchor="middle" fill="#000" textLength="32.20" lengthAdjust="spacingAndGlyphs" >Groups</text>
<text transform="translate(13.20 121.20) rotate(-90)" font-size="10.20" text-anchor="middle" fill="#111" textLength="127.00" lengthAdjust="spacingAndGlyphs">Baseline CSF sTREM2 (pg/ml)</text>
<text x="3.90" y="12.90" font-size="13.60" text-anchor="start" fill="#000" textLength="8.40" lengthAdjust="spacingAndGlyphs" >A</text>
</g>
<g id="panelC">
<rect x="37.70" y="297.00" width="246.80" height="238.00" fill="#fff"/>
<line x1="37.70" y1="483.67" x2="284.50" y2="483.67" stroke="#f6f6f6" stroke-width="0.95"/>
<line x1="37.70" y1="404.12" x2="284.50" y2="404.12" stroke="#f6f6f6" stroke-width="0.95"/>
<line x1="37.70" y1="324.57" x2="284.50" y2="324.57" stroke="#f6f6f6" stroke-width="0.95"/>
<line x1="37.70" y1="523.45" x2="284.50" y2="523.45" stroke="#eeeeee" stroke-width="1.15"/>
<line x1="37.70" y1="443.90" x2="284.50" y2="443.90" stroke="#eeeeee" stroke-width="1.15"/>
<line x1="37.70" y1="364.35" x2="284.50" y2="364.35" stroke="#eeeeee" stroke-width="1.15"/>
<line x1="72.90" y1="297.00" x2="72.90" y2="535.00" stroke="#eeeeee" stroke-width="1.15"/>
<line x1="131.70" y1="297.00" x2="131.70" y2="535.00" stroke="#eeeeee" stroke-width="1.15"/>
<line x1="190.80" y1="297.00" x2="190.80" y2="535.00" stroke="#eeeeee" stroke-width="1.15"/>
<line x1="249.80" y1="297.00" x2="249.80" y2="535.00" stroke="#eeeeee" stroke-width="1.15"/>
<line x1="72.90" y1="307.50" x2="72.90" y2="362.50" stroke="#1a1a1a" stroke-width="1.05"/>
<line x1="72.90" y1="487.40" x2="72.90" y2="491.00" stroke="#1a1a1a" stroke-width="1.05"/>
<path d="M72.80 362.00 L72.75 362.75 L72.70 363.50 L72.66 364.25 L72.61 365.00 L72.56 365.75 L72.51 366.50 L72.46 367.25 L72.40 368.00 L72.33 368.75 L72.26 369.50 L72.18 370.25 L72.09 371.00 L72.01 371.75 L71.93 372.50 L71.86 373.25 L71.80 374.00 L71.75 374.75 L71.70 375.50 L71.65 376.25 L71.60 377.00 L71.56 377.75 L71.53 378.50 L71.51 379.25 L71.50 380.00 L71.51 380.75 L71.54 381.50 L71.58 382.25 L71.64 383.00 L71.70 383.75 L71.77 384.50 L71.84 385.25 L71.90 386.00 L71.96 386.62 L72.03 387.25 L72.10 387.88 L72.18 388.50 L72.25 389.12 L72.32 389.75 L72.37 390.38 L72.40 391.00 L72.42 391.62 L72.44 392.25 L72.46 392.88 L72.47 393.50 L72.48 394.12 L72.49 394.75 L72.50 395.38 L72.50 396.00 L72.50 396.75 L72.49 397.50 L72.48 398.25 L72.47 399.00 L72.46 399.75 L72.44 400.50 L72.42 401.25 L72.40 402.00 L72.38 402.64 L72.35 403.27 L72.30 403.91 L72.26 404.55 L72.20 405.19 L72.14 405.83 L72.07 406.46 L72.00 407.10 L71.91 407.76 L71.81 408.43 L71.68 409.09 L71.54 409.75 L71.38 410.41 L71.20 411.07 L71.01 411.74 L70.80 412.40 L70.55 413.07 L70.23 413.75 L69.87 414.43 L69.47 415.10 L69.05 415.77 L68.63 416.45 L68.20 417.12 L67.80 417.80 L67.41 418.46 L67.01 419.12 L66.60 419.79 L66.18 420.45 L65.77 421.11 L65.37 421.78 L64.98 422.44 L64.60 423.10 L64.24 423.76 L63.89 424.43 L63.55 425.09 L63.22 425.75 L62.89 426.41 L62.56 427.07 L62.23 427.74 L61.90 428.40 L61.68 428.85 L61.46 429.30 L61.25 429.75 L61.04 430.20 L60.83 430.65 L60.60 431.10 L60.36 431.55 L60.10 432.00 L59.82 432.44 L59.52 432.88 L59.19 433.31 L58.85 433.75 L58.50 434.19 L58.16 434.62 L57.82 435.06 L57.50 435.50 L57.18 435.94 L56.83 436.38 L56.49 436.81 L56.15 437.25 L55.83 437.69 L55.54 438.12 L55.29 438.56 L55.10 439.00 L54.93 439.45 L54.77 439.90 L54.62 440.35 L54.48 440.80 L54.37 441.25 L54.28 441.70 L54.22 442.15 L54.20 442.60 L54.23 443.05 L54.30 443.50 L54.41 443.95 L54.56 444.40 L54.73 444.85 L54.91 445.30 L55.10 445.75 L55.30 446.20 L55.51 446.64 L55.77 447.07 L56.07 447.51 L56.39 447.95 L56.74 448.39 L57.09 448.82 L57.45 449.26 L57.80 449.70 L58.17 450.15 L58.56 450.60 L58.97 451.05 L59.38 451.50 L59.80 451.95 L60.22 452.40 L60.62 452.85 L61.00 453.30 L61.36 453.74 L61.71 454.18 L62.06 454.61 L62.40 455.05 L62.73 455.49 L63.06 455.93 L63.38 456.36 L63.70 456.80 L64.18 457.46 L64.67 458.12 L65.16 458.79 L65.63 459.45 L66.08 460.11 L66.50 460.78 L66.88 461.44 L67.20 462.10 L67.50 462.78 L67.78 463.45 L68.05 464.12 L68.30 464.80 L68.52 465.48 L68.72 466.15 L68.88 466.82 L69.00 467.50 L69.09 468.16 L69.16 468.82 L69.23 469.49 L69.28 470.15 L69.34 470.81 L69.39 471.48 L69.44 472.14 L69.50 472.80 L69.56 473.46 L69.61 474.12 L69.67 474.79 L69.72 475.45 L69.78 476.11 L69.84 476.78 L69.91 477.44 L70.00 478.10 L70.11 478.76 L70.25 479.43 L70.42 480.09 L70.61 480.75 L70.81 481.41 L71.01 482.07 L71.21 482.74 L71.40 483.40 L71.56 483.96 L71.72 484.52 L71.88 485.09 L72.04 485.65 L72.21 486.21 L72.37 486.77 L72.54 487.34 L72.70 487.90 L73.10 487.90 L73.26 487.34 L73.43 486.77 L73.59 486.21 L73.76 485.65 L73.92 485.09 L74.08 484.52 L74.24 483.96 L74.40 483.40 L74.59 482.74 L74.79 482.07 L74.99 481.41 L75.19 480.75 L75.38 480.09 L75.55 479.43 L75.69 478.76 L75.80 478.10 L75.89 477.44 L75.96 476.78 L76.02 476.11 L76.08 475.45 L76.13 474.79 L76.19 474.12 L76.24 473.46 L76.30 472.80 L76.36 472.14 L76.41 471.48 L76.46 470.81 L76.52 470.15 L76.57 469.49 L76.64 468.82 L76.71 468.16 L76.80 467.50 L76.92 466.82 L77.08 466.15 L77.28 465.48 L77.50 464.80 L77.75 464.12 L78.02 463.45 L78.30 462.78 L78.60 462.10 L78.92 461.44 L79.30 460.78 L79.72 460.11 L80.17 459.45 L80.64 458.79 L81.13 458.12 L81.62 457.46 L82.10 456.80 L82.42 456.36 L82.74 455.93 L83.07 455.49 L83.40 455.05 L83.74 454.61 L84.09 454.18 L84.44 453.74 L84.80 453.30 L85.18 452.85 L85.58 452.40 L86.00 451.95 L86.42 451.50 L86.83 451.05 L87.24 450.60 L87.63 450.15 L88.00 449.70 L88.35 449.26 L88.71 448.82 L89.06 448.39 L89.41 447.95 L89.73 447.51 L90.03 447.07 L90.29 446.64 L90.50 446.20 L90.70 445.75 L90.89 445.30 L91.07 444.85 L91.24 444.40 L91.39 443.95 L91.50 443.50 L91.57 443.05 L91.60 442.60 L91.58 442.15 L91.52 441.70 L91.43 441.25 L91.32 440.80 L91.18 440.35 L91.03 439.90 L90.87 439.45 L90.70 439.00 L90.51 438.56 L90.26 438.12 L89.97 437.69 L89.65 437.25 L89.31 436.81 L88.97 436.38 L88.62 435.94 L88.30 435.50 L87.98 435.06 L87.64 434.62 L87.30 434.19 L86.95 433.75 L86.61 433.31 L86.28 432.88 L85.98 432.44 L85.70 432.00 L85.44 431.55 L85.20 431.10 L84.97 430.65 L84.76 430.20 L84.55 429.75 L84.34 429.30 L84.12 428.85 L83.90 428.40 L83.57 427.74 L83.24 427.07 L82.91 426.41 L82.58 425.75 L82.25 425.09 L81.91 424.43 L81.56 423.76 L81.20 423.10 L80.82 422.44 L80.43 421.78 L80.03 421.11 L79.62 420.45 L79.20 419.79 L78.79 419.12 L78.39 418.46 L78.00 417.80 L77.60 417.12 L77.17 416.45 L76.75 415.77 L76.33 415.10 L75.93 414.43 L75.57 413.75 L75.25 413.07 L75.00 412.40 L74.79 411.74 L74.60 411.07 L74.42 410.41 L74.26 409.75 L74.12 409.09 L73.99 408.43 L73.89 407.76 L73.80 407.10 L73.73 406.46 L73.66 405.83 L73.60 405.19 L73.54 404.55 L73.50 403.91 L73.45 403.27 L73.42 402.64 L73.40 402.00 L73.38 401.25 L73.36 400.50 L73.34 399.75 L73.33 399.00 L73.32 398.25 L73.31 397.50 L73.30 396.75 L73.30 396.00 L73.30 395.38 L73.31 394.75 L73.32 394.12 L73.33 393.50 L73.34 392.88 L73.36 392.25 L73.38 391.62 L73.40 391.00 L73.43 390.38 L73.48 389.75 L73.55 389.12 L73.62 388.50 L73.70 387.88 L73.77 387.25 L73.84 386.62 L73.90 386.00 L73.96 385.25 L74.03 384.50 L74.10 383.75 L74.16 383.00 L74.22 382.25 L74.26 381.50 L74.29 380.75 L74.30 380.00 L74.29 379.25 L74.27 378.50 L74.24 377.75 L74.20 377.00 L74.15 376.25 L74.10 375.50 L74.05 374.75 L74.00 374.00 L73.94 373.25 L73.87 372.50 L73.79 371.75 L73.71 371.00 L73.62 370.25 L73.54 369.50 L73.47 368.75 L73.40 368.00 L73.34 367.25 L73.29 366.50 L73.24 365.75 L73.19 365.00 L73.14 364.25 L73.10 363.50 L73.05 362.75 L73.00 362.00 Z" fill="#FFD700" stroke="#1c1c1c" stroke-width="0.95" stroke-linejoin="round"/>
<line x1="72.90" y1="393.10" x2="72.90" y2="431.60" stroke="#333333" stroke-width="0.65"/>
<line x1="72.90" y1="451.50" x2="72.90" y2="487.00" stroke="#333333" stroke-width="0.65"/>
<rect x="66.90" y="431.60" width="12.00" height="19.90" fill="#FFA500" stroke="#333333" stroke-width="0.65"/>
<line x1="66.90" y1="442.30" x2="78.90" y2="442.30" stroke="#333333" stroke-width="1.3"/>
<circle cx="72.90" cy="307.50" r="2.00" fill="#FFA500"/>
<circle cx="72.90" cy="376.60" r="2.00" fill="#FFA500"/>
<circle cx="72.90" cy="379.50" r="2.00" fill="#FFA500"/>
<circle cx="72.90" cy="382.50" r="2.00" fill="#FFA500"/>
<circle cx="72.90" cy="393.10" r="2.00" fill="#FFA500"/>
<circle cx="72.90" cy="491.00" r="2.00" fill="#FFA500"/>
<line x1="131.70" y1="478.50" x2="131.70" y2="489.80" stroke="#1a1a1a" stroke-width="1.05"/>
<path d="M131.50 388.10 L131.36 388.71 L131.23 389.33 L131.09 389.94 L130.96 390.55 L130.82 391.16 L130.68 391.77 L130.54 392.39 L130.40 393.00 L130.28 393.50 L130.16 394.00 L130.04 394.50 L129.92 395.00 L129.79 395.50 L129.67 396.00 L129.53 396.50 L129.40 397.00 L129.29 397.38 L129.18 397.75 L129.05 398.12 L128.93 398.50 L128.81 398.88 L128.70 399.25 L128.59 399.62 L128.50 400.00 L128.36 400.66 L128.24 401.32 L128.13 401.99 L128.03 402.65 L127.93 403.31 L127.83 403.98 L127.72 404.64 L127.60 405.30 L127.47 405.98 L127.34 406.65 L127.20 407.32 L127.06 408.00 L126.91 408.68 L126.75 409.35 L126.58 410.02 L126.40 410.70 L126.20 411.36 L125.97 412.02 L125.72 412.69 L125.45 413.35 L125.18 414.01 L124.91 414.68 L124.65 415.34 L124.40 416.00 L124.17 416.66 L123.94 417.32 L123.72 417.99 L123.51 418.65 L123.29 419.31 L123.07 419.98 L122.84 420.64 L122.60 421.30 L122.36 421.96 L122.12 422.62 L121.88 423.29 L121.63 423.95 L121.38 424.61 L121.10 425.28 L120.81 425.94 L120.50 426.60 L120.14 427.28 L119.75 427.95 L119.31 428.62 L118.86 429.30 L118.39 429.98 L117.92 430.65 L117.45 431.32 L117.00 432.00 L116.71 432.44 L116.41 432.88 L116.10 433.31 L115.80 433.75 L115.50 434.19 L115.22 434.62 L114.95 435.06 L114.70 435.50 L114.46 435.94 L114.22 436.38 L113.99 436.81 L113.77 437.25 L113.57 437.69 L113.38 438.12 L113.22 438.56 L113.10 439.00 L112.99 439.45 L112.88 439.90 L112.78 440.35 L112.69 440.80 L112.61 441.25 L112.55 441.70 L112.51 442.15 L112.50 442.60 L112.55 443.05 L112.67 443.50 L112.86 443.95 L113.11 444.40 L113.39 444.85 L113.69 445.30 L114.00 445.75 L114.30 446.20 L114.61 446.64 L114.98 447.07 L115.38 447.51 L115.80 447.95 L116.24 448.39 L116.68 448.82 L117.10 449.26 L117.50 449.70 L117.89 450.15 L118.27 450.60 L118.65 451.05 L119.03 451.50 L119.40 451.95 L119.77 452.40 L120.14 452.85 L120.50 453.30 L121.03 453.96 L121.57 454.62 L122.09 455.29 L122.62 455.95 L123.13 456.61 L123.64 457.28 L124.13 457.94 L124.60 458.60 L125.07 459.26 L125.54 459.93 L126.01 460.59 L126.46 461.25 L126.89 461.91 L127.30 462.57 L127.67 463.24 L128.00 463.90 L128.30 464.56 L128.57 465.22 L128.83 465.89 L129.07 466.55 L129.30 467.21 L129.51 467.88 L129.71 468.54 L129.90 469.20 L130.08 469.88 L130.26 470.55 L130.43 471.23 L130.58 471.90 L130.73 472.57 L130.87 473.25 L130.99 473.93 L131.10 474.60 L131.18 475.15 L131.25 475.70 L131.31 476.25 L131.37 476.80 L131.43 477.35 L131.48 477.90 L131.54 478.45 L131.60 479.00 L131.80 479.00 L131.86 478.45 L131.92 477.90 L131.97 477.35 L132.03 476.80 L132.09 476.25 L132.15 475.70 L132.22 475.15 L132.30 474.60 L132.41 473.93 L132.53 473.25 L132.67 472.57 L132.82 471.90 L132.97 471.23 L133.14 470.55 L133.32 469.88 L133.50 469.20 L133.69 468.54 L133.89 467.88 L134.10 467.21 L134.33 466.55 L134.57 465.89 L134.83 465.22 L135.10 464.56 L135.40 463.90 L135.73 463.24 L136.10 462.57 L136.51 461.91 L136.94 461.25 L137.39 460.59 L137.86 459.93 L138.33 459.26 L138.80 458.60 L139.27 457.94 L139.76 457.28 L140.27 456.61 L140.78 455.95 L141.31 455.29 L141.83 454.62 L142.37 453.96 L142.90 453.30 L143.26 452.85 L143.63 452.40 L144.00 451.95 L144.37 451.50 L144.75 451.05 L145.13 450.60 L145.51 450.15 L145.90 449.70 L146.30 449.26 L146.72 448.82 L147.16 448.39 L147.60 447.95 L148.02 447.51 L148.42 447.07 L148.79 446.64 L149.10 446.20 L149.40 445.75 L149.71 445.30 L150.01 444.85 L150.29 444.40 L150.54 443.95 L150.73 443.50 L150.85 443.05 L150.90 442.60 L150.89 442.15 L150.85 441.70 L150.79 441.25 L150.71 440.80 L150.62 440.35 L150.52 439.90 L150.41 439.45 L150.30 439.00 L150.18 438.56 L150.02 438.12 L149.83 437.69 L149.63 437.25 L149.41 436.81 L149.18 436.38 L148.94 435.94 L148.70 435.50 L148.45 435.06 L148.18 434.62 L147.90 434.19 L147.60 433.75 L147.30 433.31 L146.99 432.88 L146.69 432.44 L146.40 432.00 L145.95 431.32 L145.48 430.65 L145.01 429.98 L144.54 429.30 L144.09 428.62 L143.65 427.95 L143.26 427.28 L142.90 426.60 L142.59 425.94 L142.30 425.28 L142.02 424.61 L141.77 423.95 L141.52 423.29 L141.28 422.62 L141.04 421.96 L140.80 421.30 L140.56 420.64 L140.33 419.98 L140.11 419.31 L139.89 418.65 L139.68 417.99 L139.46 417.32 L139.23 416.66 L139.00 416.00 L138.75 415.34 L138.49 414.68 L138.22 414.01 L137.95 413.35 L137.68 412.69 L137.43 412.02 L137.20 411.36 L137.00 410.70 L136.82 410.02 L136.65 409.35 L136.49 408.68 L136.34 408.00 L136.20 407.32 L136.06 406.65 L135.93 405.98 L135.80 405.30 L135.68 404.64 L135.57 403.98 L135.47 403.31 L135.37 402.65 L135.27 401.99 L135.16 401.32 L135.04 400.66 L134.90 400.00 L134.81 399.62 L134.70 399.25 L134.59 398.88 L134.47 398.50 L134.35 398.12 L134.22 397.75 L134.11 397.38 L134.00 397.00 L133.87 396.50 L133.73 396.00 L133.61 395.50 L133.48 395.00 L133.36 394.50 L133.24 394.00 L133.12 393.50 L133.00 393.00 L132.86 392.39 L132.72 391.77 L132.58 391.16 L132.44 390.55 L132.31 389.94 L132.17 389.33 L132.04 388.71 L131.90 388.10 Z" fill="#FFD700" stroke="#1c1c1c" stroke-width="0.95" stroke-linejoin="round"/>
<line x1="131.70" y1="388.10" x2="131.70" y2="425.40" stroke="#333333" stroke-width="0.65"/>
<line x1="131.70" y1="446.50" x2="131.70" y2="478.00" stroke="#333333" stroke-width="0.65"/>
<rect x="125.70" y="425.40" width="12.00" height="21.10" fill="#FFA500" stroke="#333333" stroke-width="0.65"/>
<line x1="125.70" y1="440.50" x2="137.70" y2="440.50" stroke="#333333" stroke-width="1.3"/>
<circle cx="131.70" cy="388.10" r="2.00" fill="#FFA500"/>
<circle cx="131.70" cy="486.60" r="2.00" fill="#FFA500"/>
<circle cx="131.70" cy="489.70" r="2.00" fill="#FFA500"/>
<line x1="190.80" y1="356.60" x2="190.80" y2="386.50" stroke="#1a1a1a" stroke-width="1.05"/>
<path d="M190.70 386.00 L190.65 386.50 L190.60 387.00 L190.55 387.50 L190.50 388.00 L190.45 388.50 L190.40 389.00 L190.35 389.50 L190.30 390.00 L190.25 390.52 L190.20 391.05 L190.16 391.57 L190.11 392.10 L190.06 392.62 L190.01 393.15 L189.96 393.68 L189.90 394.20 L189.81 394.86 L189.71 395.52 L189.60 396.19 L189.48 396.85 L189.36 397.51 L189.24 398.18 L189.12 398.84 L189.00 399.50 L188.89 400.18 L188.78 400.85 L188.67 401.52 L188.56 402.20 L188.44 402.88 L188.33 403.55 L188.22 404.22 L188.10 404.90 L187.98 405.56 L187.86 406.22 L187.75 406.89 L187.62 407.55 L187.50 408.21 L187.37 408.88 L187.24 409.54 L187.10 410.20 L186.96 410.86 L186.81 411.52 L186.66 412.19 L186.50 412.85 L186.33 413.51 L186.16 414.18 L185.99 414.84 L185.80 415.50 L185.67 415.95 L185.55 416.40 L185.42 416.85 L185.29 417.30 L185.15 417.75 L184.99 418.20 L184.81 418.65 L184.60 419.10 L184.34 419.54 L184.02 419.98 L183.63 420.41 L183.20 420.85 L182.75 421.29 L182.29 421.73 L181.83 422.16 L181.40 422.60 L180.97 423.05 L180.54 423.50 L180.11 423.95 L179.67 424.40 L179.22 424.85 L178.77 425.30 L178.29 425.75 L177.80 426.20 L177.30 426.64 L176.77 427.07 L176.22 427.51 L175.65 427.95 L175.08 428.39 L174.51 428.82 L173.95 429.26 L173.40 429.70 L172.84 430.15 L172.27 430.60 L171.71 431.05 L171.14 431.50 L170.59 431.95 L170.04 432.40 L169.51 432.85 L169.00 433.30 L168.50 433.74 L168.00 434.18 L167.50 434.61 L167.01 435.05 L166.54 435.49 L166.11 435.93 L165.73 436.36 L165.40 436.80 L165.16 437.14 L164.92 437.48 L164.69 437.81 L164.47 438.15 L164.28 438.49 L164.13 438.82 L164.04 439.16 L164.00 439.50 L164.03 439.82 L164.12 440.15 L164.27 440.48 L164.45 440.80 L164.66 441.12 L164.90 441.45 L165.15 441.78 L165.40 442.10 L165.81 442.55 L166.35 443.00 L166.97 443.45 L167.68 443.90 L168.43 444.35 L169.22 444.80 L170.01 445.25 L170.80 445.70 L171.59 446.14 L172.43 446.57 L173.32 447.01 L174.23 447.45 L175.16 447.89 L176.07 448.32 L176.96 448.76 L177.80 449.20 L178.65 449.65 L179.50 450.10 L180.34 450.55 L181.17 451.00 L181.97 451.45 L182.73 451.90 L183.45 452.35 L184.10 452.80 L184.55 453.12 L184.99 453.45 L185.42 453.77 L185.82 454.10 L186.20 454.43 L186.55 454.75 L186.85 455.07 L187.10 455.40 L187.33 455.76 L187.53 456.12 L187.71 456.49 L187.87 456.85 L188.03 457.21 L188.18 457.57 L188.33 457.94 L188.50 458.30 L193.10 458.30 L193.27 457.94 L193.42 457.57 L193.57 457.21 L193.73 456.85 L193.89 456.49 L194.07 456.12 L194.27 455.76 L194.50 455.40 L194.75 455.07 L195.05 454.75 L195.40 454.43 L195.78 454.10 L196.18 453.77 L196.61 453.45 L197.05 453.12 L197.50 452.80 L198.15 452.35 L198.87 451.90 L199.63 451.45 L200.43 451.00 L201.26 450.55 L202.10 450.10 L202.95 449.65 L203.80 449.20 L204.64 448.76 L205.53 448.32 L206.44 447.89 L207.37 447.45 L208.28 447.01 L209.17 446.57 L210.01 446.14 L210.80 445.70 L211.59 445.25 L212.38 444.80 L213.17 444.35 L213.92 443.90 L214.63 443.45 L215.25 443.00 L215.79 442.55 L216.20 442.10 L216.45 441.78 L216.70 441.45 L216.94 441.12 L217.15 440.80 L217.33 440.48 L217.48 440.15 L217.57 439.82 L217.60 439.50 L217.56 439.16 L217.47 438.82 L217.32 438.49 L217.13 438.15 L216.91 437.81 L216.68 437.48 L216.44 437.14 L216.20 436.80 L215.87 436.36 L215.49 435.93 L215.06 435.49 L214.59 435.05 L214.10 434.61 L213.60 434.18 L213.10 433.74 L212.60 433.30 L212.09 432.85 L211.56 432.40 L211.01 431.95 L210.46 431.50 L209.89 431.05 L209.33 430.60 L208.76 430.15 L208.20 429.70 L207.65 429.26 L207.09 428.82 L206.52 428.39 L205.95 427.95 L205.38 427.51 L204.83 427.07 L204.30 426.64 L203.80 426.20 L203.31 425.75 L202.83 425.30 L202.38 424.85 L201.93 424.40 L201.49 423.95 L201.06 423.50 L200.63 423.05 L200.20 422.60 L199.77 422.16 L199.31 421.73 L198.85 421.29 L198.40 420.85 L197.97 420.41 L197.58 419.98 L197.26 419.54 L197.00 419.10 L196.79 418.65 L196.61 418.20 L196.45 417.75 L196.31 417.30 L196.18 416.85 L196.05 416.40 L195.93 415.95 L195.80 415.50 L195.61 414.84 L195.44 414.18 L195.27 413.51 L195.10 412.85 L194.94 412.19 L194.79 411.52 L194.64 410.86 L194.50 410.20 L194.36 409.54 L194.23 408.88 L194.10 408.21 L193.98 407.55 L193.85 406.89 L193.74 406.22 L193.62 405.56 L193.50 404.90 L193.38 404.22 L193.27 403.55 L193.16 402.88 L193.04 402.20 L192.93 401.52 L192.82 400.85 L192.71 400.18 L192.60 399.50 L192.48 398.84 L192.36 398.18 L192.24 397.51 L192.12 396.85 L192.00 396.19 L191.89 395.52 L191.79 394.86 L191.70 394.20 L191.64 393.68 L191.59 393.15 L191.54 392.62 L191.49 392.10 L191.44 391.57 L191.40 391.05 L191.35 390.52 L191.30 390.00 L191.25 389.50 L191.20 389.00 L191.15 388.50 L191.10 388.00 L191.05 387.50 L191.00 387.00 L190.95 386.50 L190.90 386.00 Z" fill="#FFD700" stroke="#1c1c1c" stroke-width="0.95" stroke-linejoin="round"/>
<line x1="190.80" y1="405.00" x2="190.80" y2="429.20" stroke="#333333" stroke-width="0.65"/>
<line x1="190.80" y1="443.20" x2="190.80" y2="458.30" stroke="#333333" stroke-width="0.65"/>
<rect x="184.85" y="429.20" width="11.90" height="14.00" fill="#FFA500" stroke="#333333" stroke-width="0.65"/>
<line x1="184.85" y1="437.40" x2="196.75" y2="437.40" stroke="#333333" stroke-width="1.3"/>
<circle cx="190.80" cy="356.60" r="2.00" fill="#FFA500"/>
<circle cx="190.80" cy="395.40" r="2.00" fill="#FFA500"/>
<circle cx="190.80" cy="404.70" r="2.00" fill="#FFA500"/>
<line x1="249.80" y1="349.10" x2="249.80" y2="351.50" stroke="#1a1a1a" stroke-width="1.05"/>
<line x1="249.80" y1="489.50" x2="249.80" y2="524.30" stroke="#1a1a1a" stroke-width="1.05"/>
<path d="M249.70 351.00 L249.63 351.50 L249.55 352.00 L249.47 352.50 L249.39 353.00 L249.31 353.50 L249.25 354.00 L249.21 354.50 L249.20 355.00 L249.20 355.62 L249.20 356.25 L249.20 356.88 L249.20 357.50 L249.20 358.12 L249.20 358.75 L249.20 359.38 L249.20 360.00 L249.22 360.62 L249.25 361.25 L249.31 361.88 L249.38 362.50 L249.44 363.12 L249.50 363.75 L249.53 364.38 L249.55 365.00 L249.55 365.62 L249.55 366.25 L249.54 366.88 L249.54 367.50 L249.53 368.12 L249.52 368.75 L249.51 369.38 L249.50 370.00 L249.48 370.62 L249.45 371.25 L249.40 371.88 L249.35 372.50 L249.29 373.12 L249.22 373.75 L249.16 374.38 L249.10 375.00 L249.02 375.75 L248.93 376.50 L248.84 377.25 L248.74 378.00 L248.65 378.75 L248.55 379.50 L248.47 380.25 L248.40 381.00 L248.34 381.76 L248.28 382.52 L248.23 383.29 L248.19 384.05 L248.14 384.81 L248.10 385.58 L248.05 386.34 L248.00 387.10 L247.94 387.99 L247.88 388.88 L247.82 389.76 L247.76 390.65 L247.70 391.54 L247.64 392.43 L247.57 393.31 L247.50 394.20 L247.43 395.09 L247.36 395.98 L247.28 396.86 L247.20 397.75 L247.12 398.64 L247.03 399.52 L246.92 400.41 L246.80 401.30 L246.69 401.96 L246.57 402.62 L246.42 403.29 L246.26 403.95 L246.09 404.61 L245.90 405.28 L245.70 405.94 L245.50 406.60 L245.28 407.28 L245.03 407.95 L244.76 408.62 L244.48 409.30 L244.18 409.98 L243.86 410.65 L243.53 411.32 L243.20 412.00 L242.85 412.66 L242.46 413.32 L242.05 413.99 L241.63 414.65 L241.20 415.31 L240.78 415.98 L240.38 416.64 L240.00 417.30 L239.65 417.96 L239.31 418.62 L238.98 419.29 L238.66 419.95 L238.34 420.61 L238.03 421.28 L237.72 421.94 L237.40 422.60 L237.07 423.26 L236.73 423.93 L236.39 424.59 L236.05 425.25 L235.73 425.91 L235.42 426.57 L235.14 427.24 L234.90 427.90 L234.68 428.57 L234.46 429.25 L234.25 429.93 L234.06 430.60 L233.88 431.27 L233.73 431.95 L233.60 432.62 L233.50 433.30 L233.45 433.74 L233.39 434.18 L233.34 434.61 L233.30 435.05 L233.26 435.49 L233.23 435.93 L233.21 436.36 L233.20 436.80 L233.21 437.25 L233.25 437.70 L233.32 438.15 L233.39 438.60 L233.49 439.05 L233.59 439.50 L233.69 439.95 L233.80 440.40 L233.98 441.06 L234.20 441.72 L234.46 442.39 L234.75 443.05 L235.07 443.71 L235.40 444.38 L235.75 445.04 L236.10 445.70 L236.47 446.36 L236.89 447.02 L237.34 447.69 L237.81 448.35 L238.29 449.01 L238.77 449.68 L239.24 450.34 L239.70 451.00 L240.15 451.66 L240.60 452.32 L241.06 452.99 L241.52 453.65 L241.96 454.31 L242.40 454.98 L242.81 455.64 L243.20 456.30 L243.58 456.98 L243.97 457.65 L244.34 458.32 L244.70 459.00 L245.04 459.68 L245.36 460.35 L245.65 461.02 L245.90 461.70 L246.12 462.36 L246.32 463.02 L246.51 463.69 L246.69 464.35 L246.86 465.01 L247.01 465.68 L247.16 466.34 L247.30 467.00 L247.43 467.66 L247.56 468.32 L247.69 468.99 L247.80 469.65 L247.91 470.31 L248.02 470.98 L248.11 471.64 L248.20 472.30 L248.31 473.19 L248.41 474.07 L248.50 474.96 L248.59 475.85 L248.67 476.74 L248.75 477.62 L248.82 478.51 L248.90 479.40 L249.01 480.72 L249.12 482.05 L249.22 483.38 L249.31 484.70 L249.41 486.02 L249.51 487.35 L249.60 488.68 L249.70 490.00 L249.90 490.00 L250.00 488.68 L250.09 487.35 L250.19 486.02 L250.29 484.70 L250.38 483.38 L250.48 482.05 L250.59 480.72 L250.70 479.40 L250.78 478.51 L250.85 477.62 L250.93 476.74 L251.01 475.85 L251.10 474.96 L251.19 474.07 L251.29 473.19 L251.40 472.30 L251.49 471.64 L251.58 470.98 L251.69 470.31 L251.80 469.65 L251.91 468.99 L252.04 468.32 L252.17 467.66 L252.30 467.00 L252.44 466.34 L252.59 465.68 L252.74 465.01 L252.91 464.35 L253.09 463.69 L253.28 463.02 L253.48 462.36 L253.70 461.70 L253.95 461.02 L254.24 460.35 L254.56 459.68 L254.90 459.00 L255.26 458.32 L255.63 457.65 L256.02 456.98 L256.40 456.30 L256.79 455.64 L257.20 454.98 L257.64 454.31 L258.08 453.65 L258.54 452.99 L259.00 452.32 L259.45 451.66 L259.90 451.00 L260.36 450.34 L260.83 449.68 L261.31 449.01 L261.79 448.35 L262.26 447.69 L262.71 447.02 L263.13 446.36 L263.50 445.70 L263.85 445.04 L264.20 444.38 L264.53 443.71 L264.85 443.05 L265.14 442.39 L265.40 441.72 L265.62 441.06 L265.80 440.40 L265.91 439.95 L266.01 439.50 L266.11 439.05 L266.21 438.60 L266.28 438.15 L266.35 437.70 L266.39 437.25 L266.40 436.80 L266.39 436.36 L266.37 435.93 L266.34 435.49 L266.30 435.05 L266.26 434.61 L266.21 434.18 L266.15 433.74 L266.10 433.30 L266.00 432.62 L265.87 431.95 L265.72 431.27 L265.54 430.60 L265.35 429.93 L265.14 429.25 L264.92 428.57 L264.70 427.90 L264.46 427.24 L264.18 426.57 L263.87 425.91 L263.55 425.25 L263.21 424.59 L262.87 423.93 L262.53 423.26 L262.20 422.60 L261.88 421.94 L261.57 421.28 L261.26 420.61 L260.94 419.95 L260.62 419.29 L260.29 418.62 L259.95 417.96 L259.60 417.30 L259.22 416.64 L258.82 415.98 L258.40 415.31 L257.97 414.65 L257.55 413.99 L257.14 413.32 L256.75 412.66 L256.40 412.00 L256.07 411.32 L255.74 410.65 L255.42 409.98 L255.12 409.30 L254.84 408.62 L254.57 407.95 L254.32 407.28 L254.10 406.60 L253.90 405.94 L253.70 405.28 L253.51 404.61 L253.34 403.95 L253.18 403.29 L253.03 402.62 L252.91 401.96 L252.80 401.30 L252.68 400.41 L252.57 399.52 L252.48 398.64 L252.40 397.75 L252.32 396.86 L252.24 395.98 L252.17 395.09 L252.10 394.20 L252.03 393.31 L251.96 392.43 L251.90 391.54 L251.84 390.65 L251.78 389.76 L251.72 388.88 L251.66 387.99 L251.60 387.10 L251.55 386.34 L251.50 385.58 L251.46 384.81 L251.41 384.05 L251.37 383.29 L251.32 382.52 L251.26 381.76 L251.20 381.00 L251.13 380.25 L251.05 379.50 L250.95 378.75 L250.86 378.00 L250.76 377.25 L250.67 376.50 L250.58 375.75 L250.50 375.00 L250.44 374.38 L250.38 373.75 L250.31 373.12 L250.25 372.50 L250.20 371.88 L250.15 371.25 L250.12 370.62 L250.10 370.00 L250.09 369.38 L250.08 368.75 L250.07 368.12 L250.06 367.50 L250.06 366.88 L250.05 366.25 L250.05 365.62 L250.05 365.00 L250.07 364.38 L250.10 363.75 L250.16 363.12 L250.23 362.50 L250.29 361.88 L250.35 361.25 L250.38 360.62 L250.40 360.00 L250.40 359.38 L250.40 358.75 L250.40 358.12 L250.40 357.50 L250.40 356.88 L250.40 356.25 L250.40 355.62 L250.40 355.00 L250.39 354.50 L250.35 354.00 L250.29 353.50 L250.21 353.00 L250.13 352.50 L250.05 352.00 L249.97 351.50 L249.90 351.00 Z" fill="#FFD700" stroke="#1c1c1c" stroke-width="0.95" stroke-linejoin="round"/>
<line x1="249.80" y1="386.00" x2="249.80" y2="421.40" stroke="#333333" stroke-width="0.65"/>
<line x1="249.80" y1="444.40" x2="249.80" y2="485.00" stroke="#333333" stroke-width="0.65"/>
<rect x="243.70" y="421.40" width="12.20" height="23.00" fill="#FFA500" stroke="#333333" stroke-width="0.65"/>
<line x1="243.70" y1="435.40" x2="255.90" y2="435.40" stroke="#333333" stroke-width="1.3"/>
<circle cx="249.80" cy="349.10" r="2.00" fill="#FFA500"/>
<circle cx="249.80" cy="354.20" r="2.00" fill="#FFA500"/>
<circle cx="249.80" cy="359.60" r="2.00" fill="#FFA500"/>
<circle cx="249.80" cy="380.50" r="2.00" fill="#FFA500"/>
<circle cx="249.80" cy="382.30" r="2.00" fill="#FFA500"/>
<circle cx="249.80" cy="384.20" r="2.00" fill="#FFA500"/>
<circle cx="249.80" cy="524.30" r="2.00" fill="#FFA500"/>
<line x1="37.30" y1="297.00" x2="284.90" y2="297.00" stroke="#b8b8b8" stroke-width="1.25"/>
<line x1="284.50" y1="297.00" x2="284.50" y2="535.00" stroke="#bcbcbc" stroke-width="1.10"/>
<line x1="37.70" y1="297.00" x2="37.70" y2="535.00" stroke="#b5b5b5" stroke-width="1.10"/>
<line x1="37.30" y1="535.00" x2="284.90" y2="535.00" stroke="#b0b0b0" stroke-width="1.10"/>
<line x1="78.40" y1="307.40" x2="247.90" y2="307.40" stroke="#808080" stroke-width="1.10"/>
<line x1="75.90" y1="319.70" x2="189.10" y2="319.70" stroke="#808080" stroke-width="1.10"/>
<line x1="135.20" y1="332.50" x2="248.60" y2="332.50" stroke="#808080" stroke-width="1.10"/>
<line x1="75.90" y1="348.60" x2="128.60" y2="348.60" stroke="#808080" stroke-width="1.15"/>
<line x1="135.20" y1="348.60" x2="188.30" y2="348.60" stroke="#808080" stroke-width="1.15"/>
<line x1="194.10" y1="348.60" x2="246.90" y2="348.60" stroke="#262626" stroke-width="1.10"/>
<text x="143.70" y="305.10" font-size="8.80" fill="#222" textLength="35.30" lengthAdjust="spacingAndGlyphs"><tspan font-style="italic">P</tspan><tspan dx="0.5">=0.005*</tspan></text>
<text x="112.80" y="318.40" font-size="8.80" fill="#222" textLength="32.40" lengthAdjust="spacingAndGlyphs"><tspan font-style="italic">P</tspan><tspan dx="0.5">=0.165</tspan></text>
<text x="177.00" y="330.70" font-size="8.80" fill="#222" textLength="32.20" lengthAdjust="spacingAndGlyphs"><tspan font-style="italic">P</tspan><tspan dx="0.5">=0.543</tspan></text>
<text x="82.90" y="346.30" font-size="8.80" fill="#222" textLength="35.70" lengthAdjust="spacingAndGlyphs"><tspan font-style="italic">P</tspan><tspan dx="0.5">=0.019*</tspan></text>
<text x="143.20" y="346.30" font-size="8.80" fill="#222" textLength="31.30" lengthAdjust="spacingAndGlyphs"><tspan font-style="italic">P</tspan><tspan dx="0.5">=0.310</tspan></text>
<text x="204.70" y="346.30" font-size="8.80" fill="#222" textLength="32.10" lengthAdjust="spacingAndGlyphs"><tspan font-style="italic">P</tspan><tspan dx="0.5">=0.118</tspan></text>
<line x1="35.40" y1="523.45" x2="37.70" y2="523.45" stroke="#333" stroke-width="0.85"/>
<text x="33.70" y="526.05" font-size="7.40" text-anchor="end" fill="#262626" textLength="18.90" lengthAdjust="spacingAndGlyphs" stroke="#262626" stroke-width="0.22">−2500</text>
<line x1="35.40" y1="443.90" x2="37.70" y2="443.90" stroke="#333" stroke-width="0.85"/>
<text x="33.70" y="446.50" font-size="7.40" text-anchor="end" fill="#262626" stroke="#262626" stroke-width="0.22">0</text>
<line x1="35.40" y1="364.35" x2="37.70" y2="364.35" stroke="#333" stroke-width="0.85"/>
<text x="33.70" y="366.95" font-size="7.40" text-anchor="end" fill="#262626" textLength="15.00" lengthAdjust="spacingAndGlyphs" stroke="#262626" stroke-width="0.22">2500</text>
<line x1="72.90" y1="535.00" x2="72.90" y2="537.70" stroke="#444" stroke-width="0.80"/>
<text x="72.90" y="543.80" font-size="7.00" text-anchor="middle" fill="#222" textLength="23.60" lengthAdjust="spacingAndGlyphs" stroke="#262626" stroke-width="0.22">A−/TN−</text>
<line x1="131.70" y1="535.00" x2="131.70" y2="537.70" stroke="#444" stroke-width="0.80"/>
<text x="131.70" y="543.80" font-size="7.00" text-anchor="middle" fill="#222" textLength="23.60" lengthAdjust="spacingAndGlyphs" stroke="#262626" stroke-width="0.22">A−/TN+</text>
<line x1="190.80" y1="535.00" x2="190.80" y2="537.70" stroke="#444" stroke-width="0.80"/>
<text x="190.80" y="543.80" font-size="7.00" text-anchor="middle" fill="#222" textLength="23.60" lengthAdjust="spacingAndGlyphs" stroke="#262626" stroke-width="0.22">A+/TN−</text>
<line x1="249.80" y1="535.00" x2="249.80" y2="537.70" stroke="#444" stroke-width="0.80"/>
<text x="249.80" y="543.80" font-size="7.00" text-anchor="middle" fill="#222" textLength="23.60" lengthAdjust="spacingAndGlyphs" stroke="#262626" stroke-width="0.22">A+/TN+</text>
<text x="159.50" y="556.90" font-size="10.20" text-anchor="middle" fill="#000" textLength="32.20" lengthAdjust="spacingAndGlyphs" >Groups</text>
<text transform="translate(13.10 407.00) rotate(-90)" font-size="10.20" text-anchor="middle" fill="#111" textLength="117.00" lengthAdjust="spacingAndGlyphs">CSF sTREM2 slope (pg/ml)</text>
<text x="3.10" y="299.90" font-size="14.40" text-anchor="start" fill="#000" textLength="8.50" lengthAdjust="spacingAndGlyphs" >C</text>
</g>
<g id="panelB">
<rect x="364.90" y="102.90" width="255.10" height="318.90" fill="#fff"/>
<line x1="364.90" y1="359.56" x2="620.00" y2="359.56" stroke="#efefef" stroke-width="0.85"/>
<line x1="364.90" y1="291.47" x2="620.00" y2="291.47" stroke="#efefef" stroke-width="0.85"/>
<line x1="364.90" y1="223.38" x2="620.00" y2="223.38" stroke="#efefef" stroke-width="0.85"/>
<line x1="364.90" y1="155.29" x2="620.00" y2="155.29" stroke="#efefef" stroke-width="0.85"/>
<line x1="400.58" y1="102.90" x2="400.58" y2="421.80" stroke="#efefef" stroke-width="0.85"/>
<line x1="448.94" y1="102.90" x2="448.94" y2="421.80" stroke="#efefef" stroke-width="0.85"/>
<line x1="497.30" y1="102.90" x2="497.30" y2="421.80" stroke="#efefef" stroke-width="0.85"/>
<line x1="545.66" y1="102.90" x2="545.66" y2="421.80" stroke="#efefef" stroke-width="0.85"/>
<line x1="594.02" y1="102.90" x2="594.02" y2="421.80" stroke="#efefef" stroke-width="0.85"/>
<line x1="364.90" y1="393.60" x2="620.00" y2="393.60" stroke="#e7e7e7" stroke-width="1.00"/>
<line x1="364.90" y1="325.51" x2="620.00" y2="325.51" stroke="#e7e7e7" stroke-width="1.00"/>
<line x1="364.90" y1="257.42" x2="620.00" y2="257.42" stroke="#e7e7e7" stroke-width="1.00"/>
<line x1="364.90" y1="189.33" x2="620.00" y2="189.33" stroke="#e7e7e7" stroke-width="1.00"/>
<line x1="364.90" y1="121.24" x2="620.00" y2="121.24" stroke="#e7e7e7" stroke-width="1.00"/>
<line x1="376.40" y1="102.90" x2="376.40" y2="421.80" stroke="#e7e7e7" stroke-width="1.00"/>
<line x1="424.76" y1="102.90" x2="424.76" y2="421.80" stroke="#e7e7e7" stroke-width="1.00"/>
<line x1="473.12" y1="102.90" x2="473.12" y2="421.80" stroke="#e7e7e7" stroke-width="1.00"/>
<line x1="521.48" y1="102.90" x2="521.48" y2="421.80" stroke="#e7e7e7" stroke-width="1.00"/>
<line x1="569.84" y1="102.90" x2="569.84" y2="421.80" stroke="#e7e7e7" stroke-width="1.00"/>
<line x1="618.20" y1="102.90" x2="618.20" y2="421.80" stroke="#e7e7e7" stroke-width="1.00"/>
<polyline points="376.40,230.60 434.43,182.00 492.46,216.00 550.50,117.00 608.53,192.90" fill="none" stroke="#FFD700" stroke-width="1.0" stroke-linejoin="round"/>
<circle cx="376.40" cy="230.60" r="2.75" fill="#FFD700"/>
<circle cx="434.43" cy="182.00" r="2.75" fill="#FFD700"/>
<circle cx="492.46" cy="216.00" r="2.75" fill="#FFD700"/>
<circle cx="550.50" cy="117.00" r="2.75" fill="#FFD700"/>
<circle cx="608.53" cy="192.90" r="2.75" fill="#FFD700"/>
<polyline points="376.40,299.50 434.43,226.50 492.46,243.20 550.50,243.90 608.53,252.00" fill="none" stroke="#BA4448" stroke-width="1.0" stroke-linejoin="round"/>
<circle cx="376.40" cy="299.50" r="2.75" fill="#BA4448"/>
<circle cx="434.43" cy="226.50" r="2.75" fill="#BA4448"/>
<circle cx="492.46" cy="243.20" r="2.75" fill="#BA4448"/>
<circle cx="550.50" cy="243.90" r="2.75" fill="#BA4448"/>
<circle cx="608.53" cy="252.00" r="2.75" fill="#BA4448"/>
<polyline points="376.40,354.60 434.43,264.00 492.46,306.00 550.50,291.70 608.53,288.50" fill="none" stroke="#FFA500" stroke-width="1.0" stroke-linejoin="round"/>
<circle cx="376.40" cy="354.60" r="2.75" fill="#FFA500"/>
<circle cx="434.43" cy="264.00" r="2.75" fill="#FFA500"/>
<circle cx="492.46" cy="306.00" r="2.75" fill="#FFA500"/>
<circle cx="550.50" cy="291.70" r="2.75" fill="#FFA500"/>
<circle cx="608.53" cy="288.50" r="2.75" fill="#FFA500"/>
<polyline points="376.40,407.50 434.43,339.10 492.46,352.00 550.50,306.90 608.53,346.80" fill="none" stroke="#808080" stroke-width="1.0" stroke-linejoin="round"/>
<circle cx="376.40" cy="407.50" r="2.75" fill="#808080"/>
<circle cx="434.43" cy="339.10" r="2.75" fill="#808080"/>
<circle cx="492.46" cy="352.00" r="2.75" fill="#808080"/>
<circle cx="550.50" cy="306.90" r="2.75" fill="#808080"/>
<circle cx="608.53" cy="346.80" r="2.75" fill="#808080"/>
<line x1="364.50" y1="102.90" x2="620.40" y2="102.90" stroke="#b8b8b8" stroke-width="1.25"/>
<line x1="620.00" y1="102.90" x2="620.00" y2="421.80" stroke="#808080" stroke-width="0.80"/>
<line x1="364.90" y1="102.90" x2="364.90" y2="421.80" stroke="#a8a8a8" stroke-width="1.10"/>
<line x1="364.50" y1="421.80" x2="620.40" y2="421.80" stroke="#8a8a8a" stroke-width="0.95"/>
<line x1="362.20" y1="393.60" x2="364.90" y2="393.60" stroke="#333" stroke-width="0.95"/>
<text x="360.30" y="396.45" font-size="8.20" text-anchor="end" fill="#4d4d4d" textLength="17.10" lengthAdjust="spacingAndGlyphs" >3000</text>
<line x1="362.20" y1="325.51" x2="364.90" y2="325.51" stroke="#333" stroke-width="0.95"/>
<text x="360.30" y="328.36" font-size="8.20" text-anchor="end" fill="#4d4d4d" textLength="17.10" lengthAdjust="spacingAndGlyphs" >4000</text>
<line x1="362.20" y1="257.42" x2="364.90" y2="257.42" stroke="#333" stroke-width="0.95"/>
<text x="360.30" y="260.27" font-size="8.20" text-anchor="end" fill="#4d4d4d" textLength="17.10" lengthAdjust="spacingAndGlyphs" >5000</text>
<line x1="362.20" y1="189.33" x2="364.90" y2="189.33" stroke="#333" stroke-width="0.95"/>
<text x="360.30" y="192.18" font-size="8.20" text-anchor="end" fill="#4d4d4d" textLength="17.10" lengthAdjust="spacingAndGlyphs" >6000</text>
<line x1="362.20" y1="121.24" x2="364.90" y2="121.24" stroke="#333" stroke-width="0.95"/>
<text x="360.30" y="124.09" font-size="8.20" text-anchor="end" fill="#4d4d4d" textLength="17.10" lengthAdjust="spacingAndGlyphs" >7000</text>
<line x1="376.40" y1="421.80" x2="376.40" y2="424.80" stroke="#333" stroke-width="0.95"/>
<text x="376.40" y="431.60" font-size="8.20" text-anchor="middle" fill="#4d4d4d" >0</text>
<line x1="424.76" y1="421.80" x2="424.76" y2="424.80" stroke="#333" stroke-width="0.95"/>
<text x="424.76" y="431.60" font-size="8.20" text-anchor="middle" fill="#4d4d4d" textLength="8.60" lengthAdjust="spacingAndGlyphs" >10</text>
<line x1="473.12" y1="421.80" x2="473.12" y2="424.80" stroke="#333" stroke-width="0.95"/>
<text x="473.12" y="431.60" font-size="8.20" text-anchor="middle" fill="#4d4d4d" textLength="8.60" lengthAdjust="spacingAndGlyphs" >20</text>
<line x1="521.48" y1="421.80" x2="521.48" y2="424.80" stroke="#333" stroke-width="0.95"/>
<text x="521.48" y="431.60" font-size="8.20" text-anchor="middle" fill="#4d4d4d" textLength="8.60" lengthAdjust="spacingAndGlyphs" >30</text>
<line x1="569.84" y1="421.80" x2="569.84" y2="424.80" stroke="#333" stroke-width="0.95"/>
<text x="569.84" y="431.60" font-size="8.20" text-anchor="middle" fill="#4d4d4d" textLength="8.60" lengthAdjust="spacingAndGlyphs" >40</text>
<line x1="618.20" y1="421.80" x2="618.20" y2="424.80" stroke="#333" stroke-width="0.95"/>
<text x="618.20" y="431.60" font-size="8.20" text-anchor="middle" fill="#4d4d4d" textLength="8.60" lengthAdjust="spacingAndGlyphs" >50</text>
<text x="492.60" y="442.30" font-size="10.20" text-anchor="middle" fill="#000" textLength="61.90" lengthAdjust="spacingAndGlyphs" >Time (Months)</text>
<text transform="translate(339.00 261.50) rotate(-90)" font-size="10.20" text-anchor="middle" fill="#000" textLength="93.20" lengthAdjust="spacingAndGlyphs">CSF sTREM2 (pg/ml)</text>
<text x="325.20" y="104.10" font-size="13.90" text-anchor="start" fill="#000" textLength="7.90" lengthAdjust="spacingAndGlyphs" >B</text>
<text x="634.70" y="232.70" font-size="9.90" text-anchor="start" fill="#000" textLength="31.10" lengthAdjust="spacingAndGlyphs" >Groups</text>
<line x1="635.60" y1="247.00" x2="647.80" y2="247.00" stroke="#FFA500" stroke-width="0.95"/>
<circle cx="641.7" cy="247.00" r="2.75" fill="#FFA500"/>
<text x="654.10" y="249.90" font-size="8.20" text-anchor="start" fill="#000" textLength="27.40" lengthAdjust="spacingAndGlyphs" >A−/TN−</text>
<line x1="635.60" y1="262.20" x2="647.80" y2="262.20" stroke="#FFD700" stroke-width="0.95"/>
<circle cx="641.7" cy="262.20" r="2.75" fill="#FFD700"/>
<text x="654.10" y="265.10" font-size="8.20" text-anchor="start" fill="#000" textLength="27.40" lengthAdjust="spacingAndGlyphs" >A−/TN+</text>
<line x1="635.60" y1="277.40" x2="647.80" y2="277.40" stroke="#808080" stroke-width="0.95"/>
<circle cx="641.7" cy="277.40" r="2.75" fill="#808080"/>
<text x="654.10" y="280.30" font-size="8.20" text-anchor="start" fill="#000" textLength="27.40" lengthAdjust="spacingAndGlyphs" >A+/TN−</text>
<line x1="635.60" y1="292.60" x2="647.80" y2="292.60" stroke="#BA4448" stroke-width="0.95"/>
<circle cx="641.7" cy="292.60" r="2.75" fill="#BA4448"/>
<text x="654.10" y="295.50" font-size="8.20" text-anchor="start" fill="#000" textLength="27.40" lengthAdjust="spacingAndGlyphs" >A+/TN+</text>
</g>
</svg>
</body></html>
